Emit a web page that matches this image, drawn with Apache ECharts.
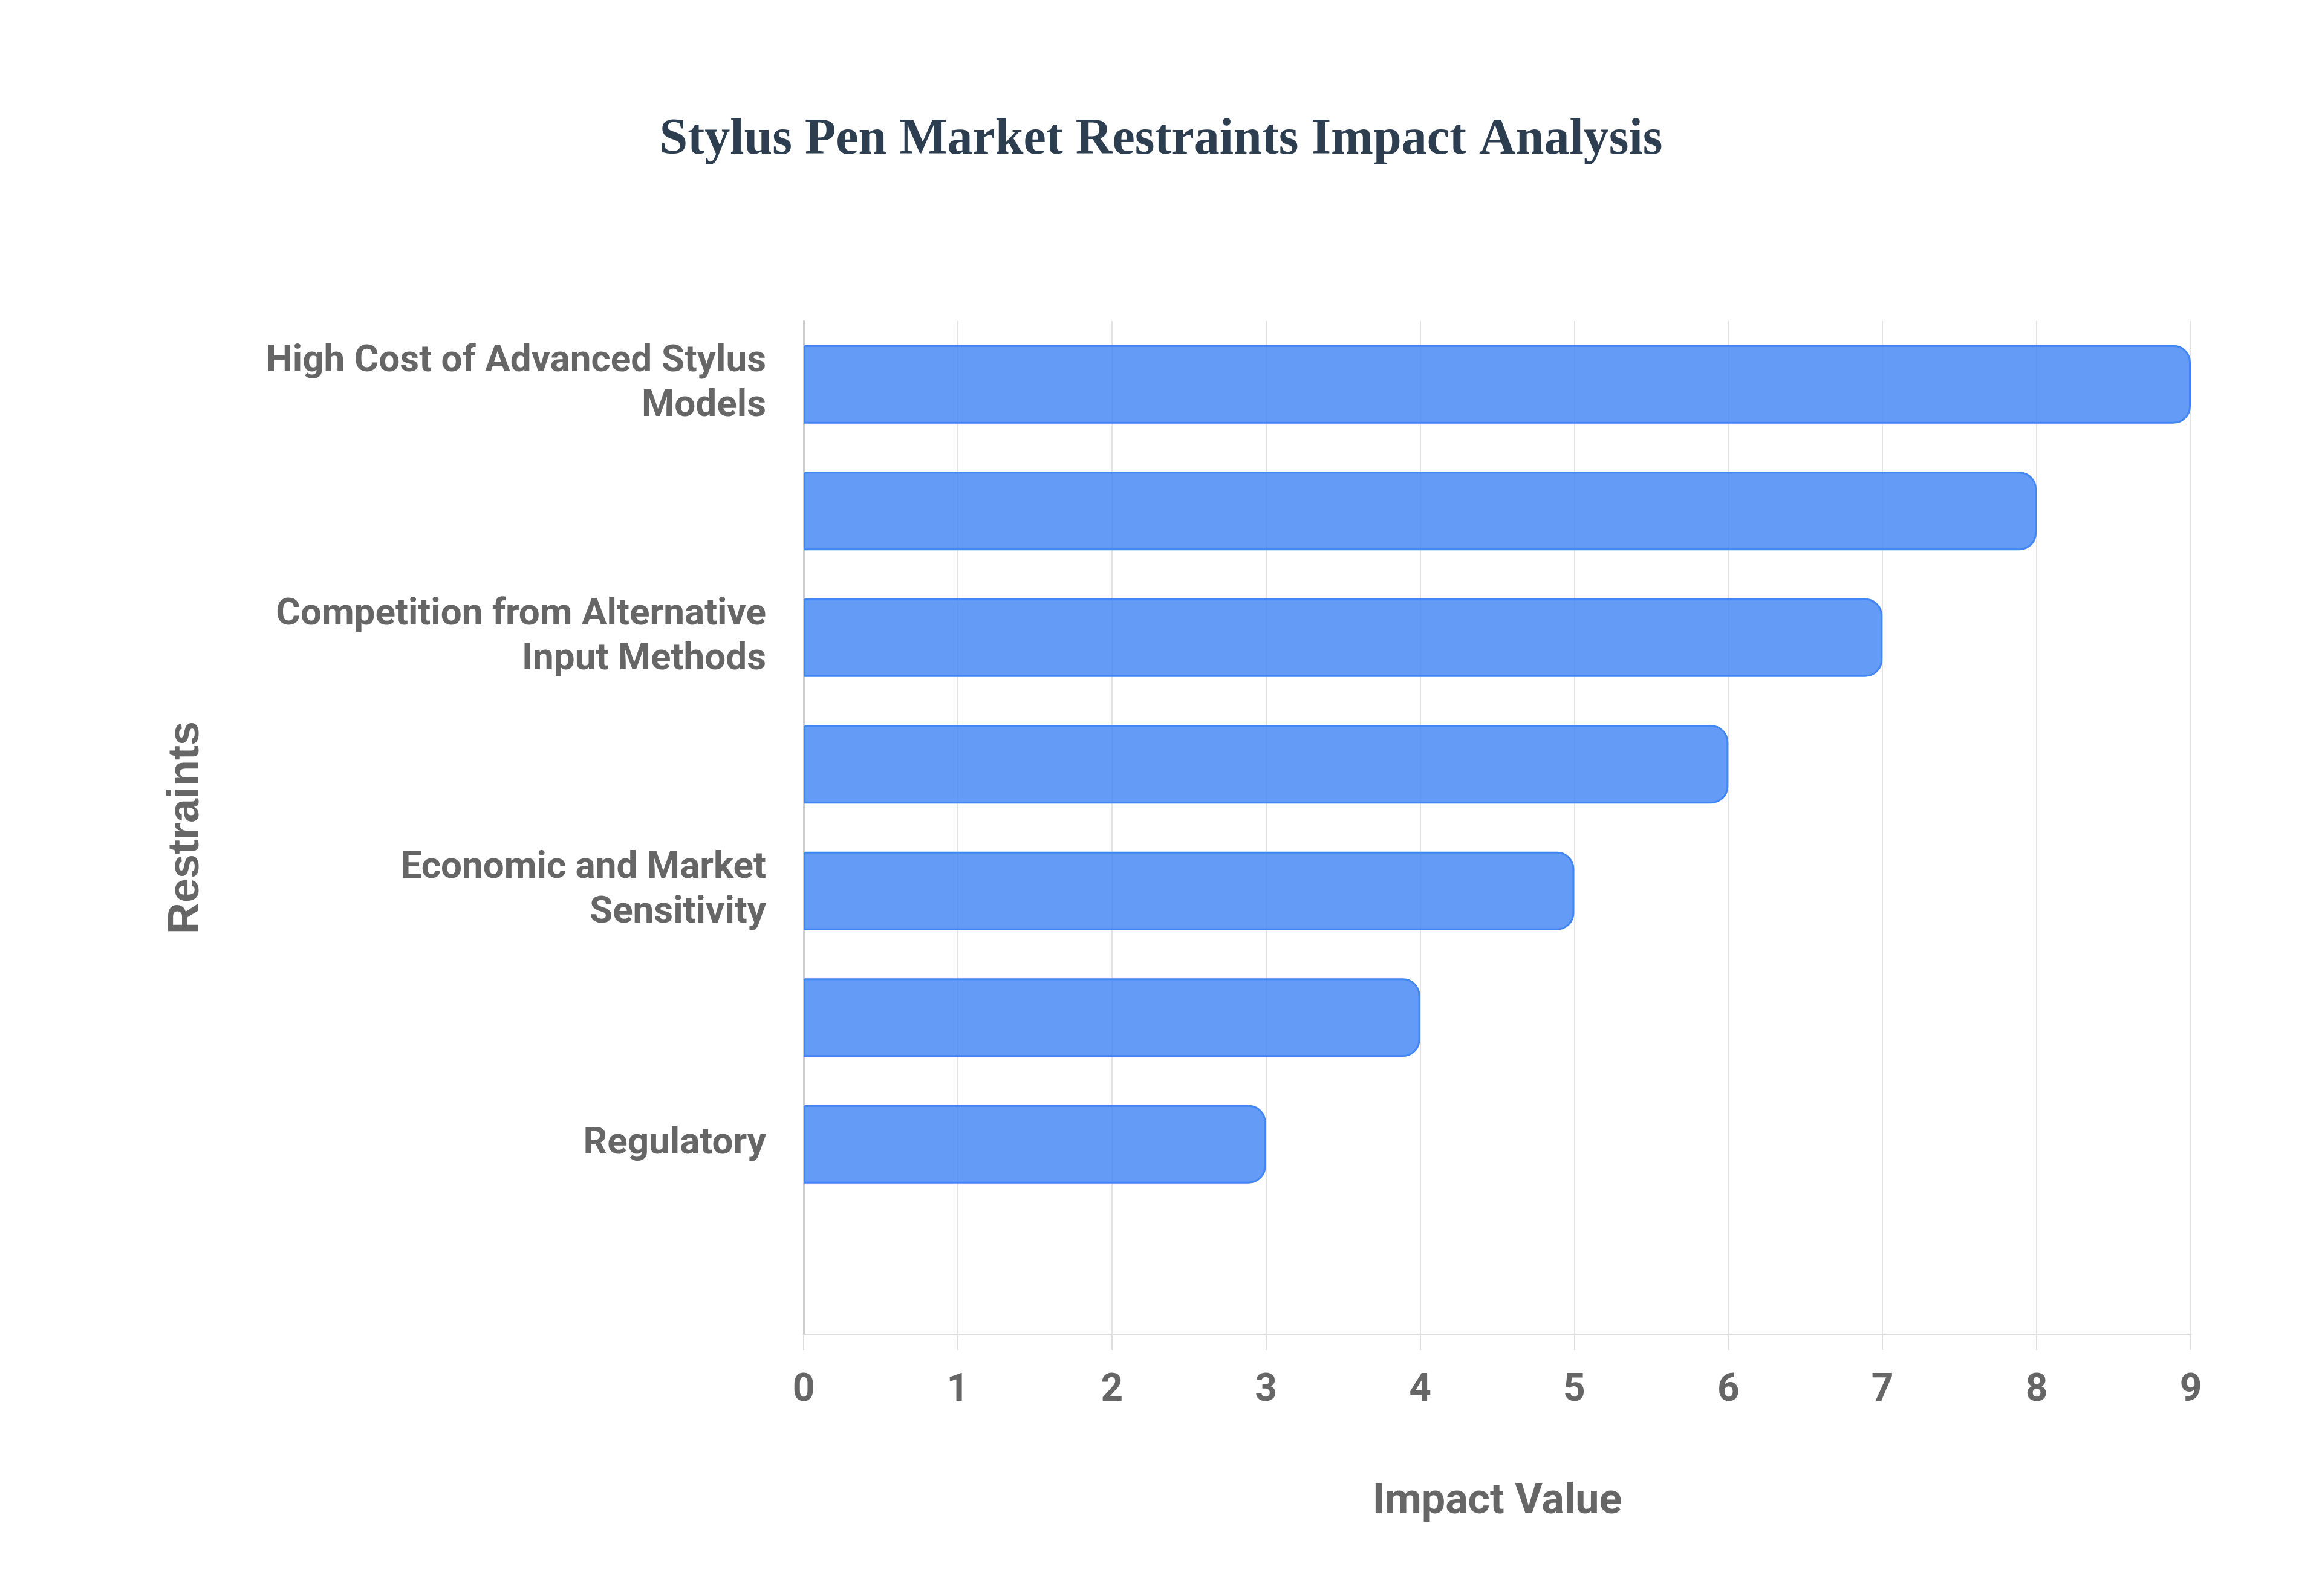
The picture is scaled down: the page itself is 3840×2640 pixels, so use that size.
<!DOCTYPE html>
<html>
<head>
<meta charset="utf-8">
<script src="https://cdn.jsdelivr.net/npm/echarts@6/dist/echarts.min.js"></script>
<style>
html,body{margin:0;padding:0;background:#fff;}
#chart{width:3840px;height:2640px;}
</style>
</head>
<body>
<div id="chart"></div>
<script>
const titleText = "Stylus Pen Market Restraints Impact Analysis";
const categories = [
  "High Cost of Advanced Stylus Models",
  "Limited Device Compatibility",
  "Competition from Alternative Input Methods",
  "Durability and Battery Concerns",
  "Economic and Market Sensitivity",
  "Technological Limitations",
  "Regulatory",
  "Other"
];
const impactValues = [9, 8, 7, 6, 5, 4, 3, null];
const xTicks = [0, 9, 1]; // min, max, interval
const xAxisName = "Impact Value";
const yAxisName = "Restraints";

const labelFont = 'Roboto, "Liberation Sans", Arial, sans-serif';
const measureCtx = document.createElement('canvas').getContext('2d');
function wrapLabel(text, maxWidth, font) {
  measureCtx.font = font;
  const words = String(text).split(' ');
  const lines = [];
  let cur = '';
  words.forEach(function (w) {
    const test = cur ? cur + ' ' + w : w;
    if (cur && measureCtx.measureText(test).width > maxWidth) {
      lines.push(cur);
      cur = w;
    } else {
      cur = test;
    }
  });
  if (cur) lines.push(cur);
  return lines.join('\n');
}

const chart = echarts.init(document.getElementById('chart'));
chart.setOption({
  backgroundColor: '#ffffff',
  animation: false,
  title: {
    text: titleText,
    left: 'center',
    top: 185,
    textStyle: {
      fontFamily: '"Liberation Serif", "Times New Roman", serif',
      fontWeight: 'bold',
      fontSize: 84,
      color: '#2c3e50'
    }
  },
  grid: { left: 1329, right: 217, top: 531, bottom: 433, containLabel: false },
  xAxis: {
    type: 'value',
    min: xTicks[0],
    max: xTicks[1],
    interval: xTicks[2],
    name: xAxisName,
    nameLocation: 'middle',
    nameGap: 243,
    nameTextStyle: { fontFamily: labelFont, fontWeight: 'bold', fontSize: 70, color: '#666666' },
    axisLine: { show: true, lineStyle: { color: '#dddddd', width: 3 } },
    axisTick: { show: true, length: 26, lineStyle: { color: '#dddddd', width: 2 } },
    axisLabel: { margin: 62, fontFamily: labelFont, fontWeight: 'bold', fontSize: 64, color: '#666666' },
    splitLine: { show: true, lineStyle: { color: '#e3e3e3', width: 2 } }
  },
  yAxis: {
    type: 'category',
    data: categories,
    inverse: true,
    name: yAxisName,
    nameLocation: 'middle',
    nameGap: 985,
    nameRotate: 90,
    nameTextStyle: { fontFamily: '"Liberation Sans", Arial, sans-serif', fontWeight: 'bold', fontSize: 72, color: '#666666' },
    axisLine: { show: true, lineStyle: { color: '#cccccc', width: 3 } },
    axisTick: { show: false },
    axisLabel: {
      interval: 1,
      margin: 62,
      lineHeight: 74,
      padding: [10, 0, 0, 0],
      fontFamily: labelFont,
      fontWeight: 'bold',
      fontSize: 62,
      color: '#666666',
      align: 'right',
      formatter: function (v) { return wrapLabel(v, 875, 'bold 62px Roboto'); }
    },
    splitLine: { show: false }
  },
  series: [{
    type: 'bar',
    data: impactValues,
    barWidth: '62%',
    itemStyle: {
      color: 'rgba(66,133,244,0.82)',
      borderColor: '#4285F4',
      borderWidth: 3,
      borderRadius: [0, 27, 27, 0]
    }
  }]
});
</script>
</body>
</html>
